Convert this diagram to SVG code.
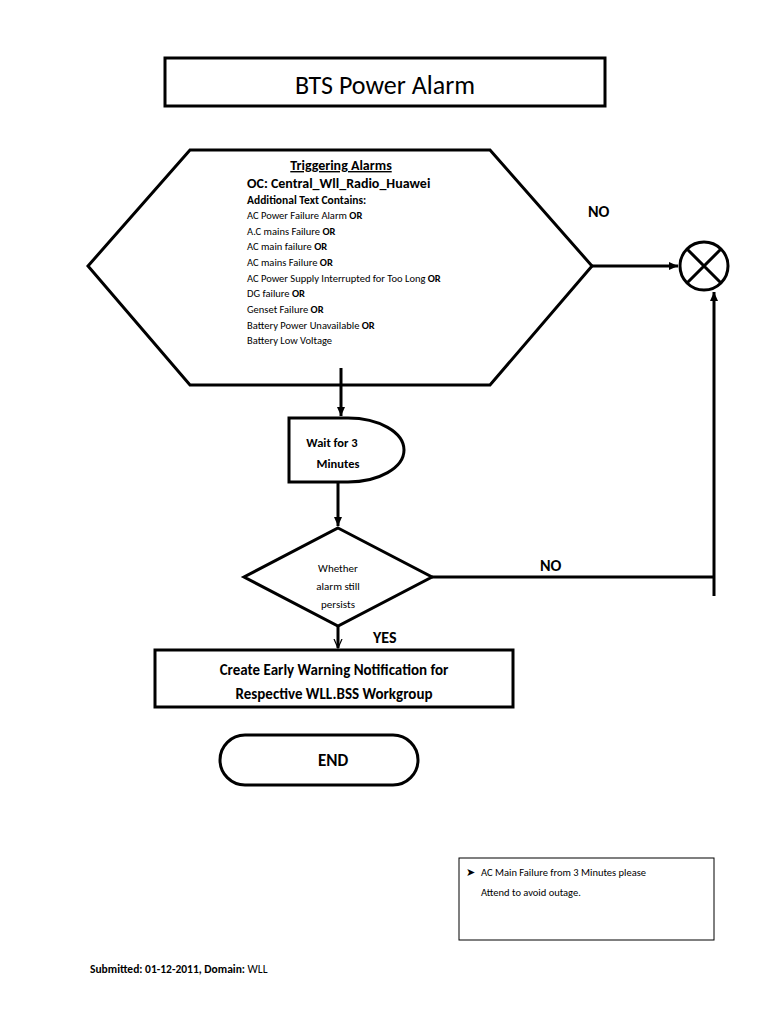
<svg xmlns="http://www.w3.org/2000/svg" width="768" height="1024" viewBox="0 0 768 1024">
<defs>
<marker id="ah" markerWidth="10" markerHeight="10" refX="9" refY="5" orient="auto" markerUnits="userSpaceOnUse"><path d="M0,1 L9,5 L0,9 Z" fill="#000"/></marker>
<marker id="ao" markerWidth="10" markerHeight="10" refX="9" refY="5" orient="auto" markerUnits="userSpaceOnUse"><path d="M0,1 L9,5 L0,9" fill="none" stroke="#000" stroke-width="1.2"/></marker>
<style>
.s{fill:#fff;stroke:#000;stroke-width:3}
.l{fill:none;stroke:#000;stroke-width:3}
text{font-family:"Carlito","Liberation Sans",sans-serif;fill:#000}
.sm{font-size:10.5px}
.b{font-weight:bold}
</style>
</defs>
<rect width="768" height="1024" fill="#fff"/>
<g id="title"><rect class="s" x="165" y="58" width="440" height="48"/><text x="385" y="94" font-size="26" text-anchor="middle">BTS Power Alarm</text></g>
<g id="trigger">
<polygon class="s" points="190,150 490,150 592,266 490,385 190,385 88,266"/>
<text x="341" y="170" font-size="14" class="b" text-anchor="middle" text-decoration="underline">Triggering Alarms</text>
<text x="247" y="188" font-size="14" class="b">OC: Central_Wll_Radio_Huawei</text>
<text x="247" y="204" font-size="11.5" class="b">Additional Text Contains:</text>
<text x="247" y="219" class="sm">AC Power Failure Alarm <tspan class="b">OR</tspan></text>
<text x="247" y="235" class="sm">A.C mains Failure <tspan class="b">OR</tspan></text>
<text x="247" y="250" class="sm">AC main failure <tspan class="b">OR</tspan></text>
<text x="247" y="266" class="sm">AC mains Failure  <tspan class="b">OR</tspan></text>
<text x="247" y="282" class="sm">AC Power Supply Interrupted for Too Long <tspan class="b">OR</tspan></text>
<text x="247" y="297" class="sm">DG failure <tspan class="b">OR</tspan></text>
<text x="247" y="313" class="sm">Genset Failure <tspan class="b">OR</tspan></text>
<text x="247" y="329" class="sm">Battery Power Unavailable <tspan class="b">OR</tspan></text>
<text x="247" y="344" class="sm">Battery Low Voltage</text>
</g>
<g id="sink"><circle class="s" cx="704" cy="266" r="24"/><path class="l" d="M687,249 L721,283 M721,249 L687,283" stroke-width="2"/></g>
<g id="wait"><path class="s" d="M289,418 H348 A56,32 0 0 1 348,482 H289 Z"/><text x="332" y="447" font-size="12.5" class="b" text-anchor="middle">Wait for 3</text><text x="338" y="468" font-size="12.5" class="b" text-anchor="middle">Minutes</text></g>
<g id="decision"><polygon class="s" points="338,528 432,577 338,626 244,577"/>
<text x="338" y="572" font-size="11" text-anchor="middle">Whether</text><text x="338" y="590" font-size="11" text-anchor="middle">alarm still</text><text x="338" y="608" font-size="11" text-anchor="middle">persists</text></g>
<g id="notify"><rect class="s" x="155" y="650" width="358" height="57"/><text x="334" y="675" font-size="15" class="b" text-anchor="middle">Create Early Warning Notification for</text><text x="334" y="699" font-size="15" class="b" text-anchor="middle">Respective WLL.BSS Workgroup</text></g>
<g id="end"><rect class="s" x="220" y="735" width="198" height="50" rx="25"/><text x="333" y="766" font-size="17" class="b" text-anchor="middle">END</text></g>
<g id="note"><rect x="459" y="858" width="255" height="82" fill="#fff" stroke="#000" stroke-width="1"/><text x="466" y="876" font-size="10.5">➤</text><text x="481" y="876" font-size="10.5">AC Main Failure from 3 Minutes please</text><text x="481" y="896" font-size="10.5">Attend to avoid outage.</text></g>
<g id="connectors">
<path class="l" d="M592,266 H678" stroke-width="2.5" marker-end="url(#ah)"/>
<path class="l" d="M341,368 V416" stroke-width="2.5" marker-end="url(#ah)"/>
<path class="l" d="M338,482 V526" stroke-width="2.5" marker-end="url(#ah)"/>
<path class="l" d="M432,577 H714" stroke-width="2.5"/>
<path class="l" d="M714,596 V292" stroke-width="2.5" marker-end="url(#ah)"/>
<path class="l" d="M338,626 V648" stroke-width="2" marker-end="url(#ao)"/>
</g>
<g id="labels">
<text x="588" y="217" font-size="16" class="b">NO</text>
<text x="540" y="571" font-size="16" class="b">NO</text>
<text x="373" y="643" font-size="16" class="b">YES</text>
<text x="90" y="973" font-size="11.5" class="b">Submitted: <tspan>01-12-2011, Domain: </tspan><tspan font-weight="normal">WLL</tspan></text>
</g>
</svg>
